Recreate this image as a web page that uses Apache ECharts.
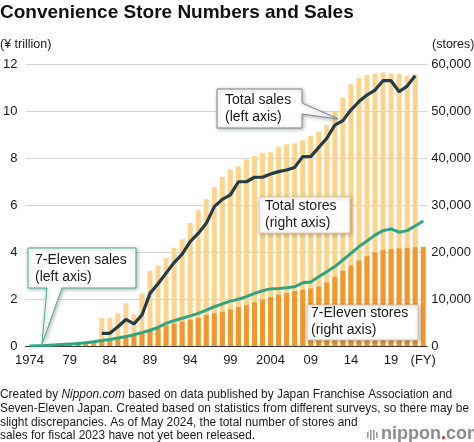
<!DOCTYPE html>
<html>
<head>
<meta charset="utf-8">
<script src="https://cdn.jsdelivr.net/npm/echarts@6/dist/echarts.min.js"></script>
<style>
  html, body { margin: 0; padding: 0; background: #fff; }
  #chart { width: 474px; height: 442px; }
</style>
</head>
<body>
<div id="chart"></div>
<script>
// fiscal years 1974 - 2023
const years = [1974, 1975, 1976, 1977, 1978, 1979, 1980, 1981, 1982, 1983,
  1984, 1985, 1986, 1987, 1988, 1989, 1990, 1991, 1992, 1993,
  1994, 1995, 1996, 1997, 1998, 1999, 2000, 2001, 2002, 2003,
  2004, 2005, 2006, 2007, 2008, 2009, 2010, 2011, 2012, 2013,
  2014, 2015, 2016, 2017, 2018, 2019, 2020, 2021, 2022, 2023];
// labels shown under every 5th year, last one sits under 2023
const xTickLabels = ['1974', '79', '84', '89', '94', '99', '2004', '09', '14', '19', '(FY)'];

// total convenience stores (right axis), no data before 1983 and for 2023
const totalStores = [null, null, null, null, null, null, null, null, null, 5950,
  5950, 6950, 9100, 6700, 11200, 16000, 17100, 18700, 20900, 22700,
  26200, 28900, 31200, 33800, 36000, 37500, 38200, 39700, 40400, 41000,
  41200, 42400, 42900, 43100, 43800, 44700, 45600, 47000, 49900, 52800,
  55700, 57000, 57700, 57900, 58200, 58000, 57900, 57450, 57700, null];

// 7-Eleven stores (right axis)
const sevenStores = [30, 100, 200, 300, 400, 500, 650, 800, 950, 1100,
  1300, 1550, 1900, 2300, 2900, 3500, 4000, 4400, 4800, 5200,
  5600, 5950, 6600, 6950, 7300, 7800, 8250, 8700, 9300, 9900,
  10400, 10900, 11300, 11700, 11950, 12250, 12650, 13500, 14750, 16000,
  17100, 18200, 19100, 19900, 20400, 20600, 20800, 20900, 21000, 21100];

// total sales, ¥ trillion (left axis)
const totalSales = [null, null, null, null, null, null, null, null, null, 0.54,
  0.54, 0.82, 1.13, 0.94, 1.32, 2.24, 2.65, 3.1, 3.55, 3.91,
  4.44, 4.79, 5.22, 5.93, 6.24, 6.43, 6.99, 6.99, 7.18, 7.18,
  7.32, 7.42, 7.49, 7.6, 8.06, 8.06, 8.45, 8.84, 9.4, 9.59,
  10.04, 10.4, 10.68, 10.89, 11.29, 11.29, 10.82, 11.06, 11.5, null];

// 7-Eleven sales, ¥ trillion (left axis)
const sevenSales = [0, 0.01, 0.02, 0.04, 0.06, 0.08, 0.11, 0.14, 0.18, 0.23,
  0.28, 0.34, 0.4, 0.48, 0.57, 0.67, 0.79, 0.97, 1.08, 1.18,
  1.28, 1.39, 1.53, 1.67, 1.79, 1.91, 1.99, 2.1, 2.24, 2.35,
  2.43, 2.45, 2.48, 2.52, 2.69, 2.72, 2.95, 3.16, 3.38, 3.66,
  3.94, 4.23, 4.47, 4.72, 4.91, 4.98, 4.84, 4.91, 5.11, 5.32];

const FONT = '"Liberation Sans", Arial, Helvetica, sans-serif';
const TEXT = '#1a1a1a';

const chart = echarts.init(document.getElementById('chart'));

// callout box + text helper
const callout = (points, stroke, x, y, text) => [
  {
    type: 'polygon',
    shape: {points: points},
    style: {
      fill: '#fff', stroke: stroke, lineWidth: 1,
      shadowBlur: 4, shadowOffsetX: 1, shadowOffsetY: 1, shadowColor: 'rgba(0,0,0,0.3)'
    },
    z: 10
  },
  {
    type: 'text', x: x, y: y, z: 11,
    style: {text: text, font: '14px ' + FONT, fill: TEXT, lineHeight: 16.5, textVerticalAlign: 'top'}
  }
];

const option = {
  animation: false,
  grid: {left: 22, right: 44, top: 64, bottom: 96},
  xAxis: {
    type: 'category',
    data: years,
    axisLine: {lineStyle: {color: '#333', width: 1}},
    axisTick: {show: false},
    axisLabel: {
      color: TEXT, fontSize: 13, fontFamily: FONT, margin: 8,
      interval: (i) => i % 5 === 0 || i === years.length - 1,
      formatter: (v, i) => i === years.length - 1 ? xTickLabels[xTickLabels.length - 1] : xTickLabels[i / 5]
    }
  },
  yAxis: [
    {
      type: 'value', min: 0, max: 12, interval: 2,
      axisLine: {show: false}, axisTick: {show: false},
      axisLabel: {color: TEXT, fontSize: 13, fontFamily: FONT, margin: 8},
      splitLine: {lineStyle: {color: '#d6d6d6', width: 1}}
    },
    {
      type: 'value', min: 0, max: 60000, interval: 10000, position: 'right',
      axisLine: {show: false}, axisTick: {show: false},
      axisLabel: {
        color: TEXT, fontSize: 13, fontFamily: FONT, margin: 4,
        formatter: (v) => v.toLocaleString('en-US')
      },
      splitLine: {show: false}
    }
  ],
  series: [
    {
      name: 'Total stores', type: 'bar', yAxisIndex: 1,
      data: totalStores, barWidth: 5, barGap: '-100%',
      itemStyle: {color: '#fdd48d'}
    },
    {
      name: '7-Eleven stores', type: 'bar', yAxisIndex: 1,
      data: sevenStores, barWidth: 5, barGap: '-100%',
      itemStyle: {color: '#f2972c'}
    },
    {
      name: 'Total sales', type: 'line', yAxisIndex: 0,
      data: totalSales, showSymbol: false, z: 4,
      lineStyle: {color: '#223d47', width: 3.2}
    },
    {
      name: '7-Eleven sales', type: 'line', yAxisIndex: 0,
      data: sevenSales, showSymbol: false, z: 4,
      lineStyle: {color: '#2fa67f', width: 3}
    }
  ],
  graphic: [
    {
      type: 'text', x: 0, y: 13,
      style: {text: 'Convenience Store Numbers and Sales', font: 'bold 19px ' + FONT, fill: '#111', textVerticalAlign: 'middle'}
    },
    {
      type: 'text', x: 0, y: 45,
      style: {text: '(¥ trillion)', font: '12.5px ' + FONT, fill: TEXT, textVerticalAlign: 'middle'}
    },
    {
      type: 'text', x: 432, y: 45,
      style: {text: '(stores)', font: '12.5px ' + FONT, fill: TEXT, textVerticalAlign: 'middle'}
    },
    ...callout([[217, 89], [302, 89], [302, 103], [338, 119], [302, 114], [302, 128], [217, 128]],
      '#7d878c', 225, 92, 'Total sales\n(left axis)'),
    ...callout([[28, 248], [136, 248], [136, 288], [62, 288], [42, 344], [47, 288], [28, 288]],
      '#45b093', 35, 252, '7-Eleven sales\n(left axis)'),
    ...callout([[259, 197], [350, 197], [350, 233], [259, 233]],
      '#e2cfa6', 265, 198, 'Total stores\n(right axis)'),
    ...callout([[307, 305], [418, 305], [418, 340], [307, 340]],
      '#d8c3a8', 311, 305, '7-Eleven stores\n(right axis)'),
    {
      type: 'text', x: 0, y: 388,
      style: {
        text: '{n|Created by }{i|Nippon.com}{n| based on data published by Japan Franchise Association and}\n' +
          '{n|Seven-Eleven Japan. Created based on statistics from different surveys, so there may be}\n' +
          '{n|slight discrepancies. As of May 2024, the total number of stores and}\n' +
          '{n|sales for fiscal 2023 have not yet been released.}',
        textVerticalAlign: 'top',
        rich: {
          n: {fontSize: 11.9, fontFamily: FONT, fill: TEXT, lineHeight: 13.7},
          i: {fontSize: 11.9, fontFamily: FONT, fontStyle: 'italic', fill: TEXT, lineHeight: 13.7}
        }
      }
    },
    // nippon.com logo
    {type: 'rect', shape: {x: 367, y: 432, width: 1.6, height: 6}, style: {fill: '#9a9a9a'}},
    {type: 'rect', shape: {x: 370, y: 430, width: 1.6, height: 10}, style: {fill: '#9a9a9a'}},
    {type: 'rect', shape: {x: 373, y: 430, width: 1.6, height: 10}, style: {fill: '#9a9a9a'}},
    {type: 'rect', shape: {x: 376, y: 432, width: 1.6, height: 6}, style: {fill: '#9a9a9a'}},
    {
      type: 'text', x: 381, y: 434,
      style: {
        text: '{g|nippon}{r|.}{g|com}',
        textVerticalAlign: 'middle',
        rich: {
          g: {fontSize: 18, fontFamily: FONT, fontWeight: 'bold', fill: '#8c8c8c'},
          r: {fontSize: 18, fontFamily: FONT, fontWeight: 'bold', fill: '#e2231a'}
        }
      }
    }
  ]
};

chart.setOption(option);
</script>
</body>
</html>
